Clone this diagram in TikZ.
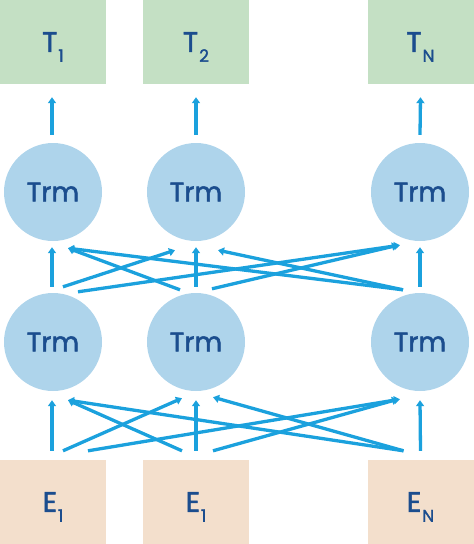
\documentclass[tikz,border=0pt]{standalone}
\usepackage{fontspec}
\setmainfont{Poppins}
\newfontfamily\labelfont{Poppins}[FakeBold=1.8]
\usetikzlibrary{arrows.meta}

\definecolor{outgreen}{HTML}{C4E0C4}
\definecolor{inbeige}{HTML}{F3DFCC}
\definecolor{trmblue}{HTML}{AED4EB}
\definecolor{linkblue}{HTML}{1BA1DD}
\definecolor{labelnavy}{HTML}{1B4D8E}

\newcommand{\lowsub}[1]{\kern1pt\smash{\raisebox{-10pt}{\fontsize{17}{18}\selectfont #1}}}

\tikzset{
    tokbox/.style={rectangle, minimum width=106pt, minimum height=84pt, inner sep=0pt, text=labelnavy, font=\labelfont\fontsize{28}{30}\selectfont},
    trm/.style={circle, fill=trmblue, minimum size=98pt, inner sep=0pt, text=labelnavy, font=\labelfont\fontsize{27}{30}\selectfont},
    link/.style={linkblue, line width=3.3pt, -{Triangle[length=6pt,width=8pt]}},
}

\begin{document}
\begin{tikzpicture}[x=1pt,y=-1pt]
        \useasboundingbox (0,0) rectangle (474,544);

        % outputs
        \node[tokbox, fill=outgreen] (t1) at (53,42) {T\lowsub{1}};
        \node[tokbox, fill=outgreen] (t2) at (196,42) {T\lowsub{2}};
        \node[tokbox, fill=outgreen] (tn) at (420.5,42) {T\lowsub{N}};

        % transformer layers
        \node[trm] (s1) at (53,192) {Trm};
        \node[trm] (s2) at (196,192) {Trm};
        \node[trm] (s3) at (420,192) {Trm};

        \node[trm] (r1) at (53,342) {Trm};
        \node[trm] (r2) at (196,342) {Trm};
        \node[trm] (r3) at (420,342) {Trm};

        % inputs
        \node[tokbox, fill=inbeige] (e1) at (53,502) {E\lowsub{1}};
        \node[tokbox, fill=inbeige] (e2) at (196,502) {E\lowsub{1}};
        \node[tokbox, fill=inbeige] (en) at (420.5,502) {E\lowsub{N}};

        % top
        \draw[link] ([shift={(-1,-8)}]s1.north) -- ([shift={(-1,13)}]t1.south);
        \draw[link] ([shift={(0,-8)}]s2.north) -- ([shift={(0,13)}]t2.south);
        \draw[link] ([shift={(0,-8)}]s3.north) -- ([shift={(0,13)}]tn.south);

        % between the two layers
        \draw[link] ([shift={(-1,-6)}]r1.north) -- ([shift={(-1,6)}]s1.south);
        \draw[link] ([shift={(0,-6)}]r2.north) -- ([shift={(0,6)}]s2.south);
        \draw[link] ([shift={(0,-6)}]r3.north) -- ([shift={(0,6)}]s3.south);
        \draw[link] ([shift={(10,-6)}]r1.north) -- ([shift={(-21,9)}]s2.south);
        \draw[link] ([shift={(25,-1)}]r1.north) -- ([shift={(-20,4)}]s3.south);
        \draw[link] ([shift={(-16,-3)}]r2.north) -- ([shift={(15,7)}]s1.south);
        \draw[link] ([shift={(16,-4)}]r2.north) -- ([shift={(-22,4)}]s3.south);
        \draw[link] ([shift={(-17,-3)}]r3.north) -- ([shift={(15,7)}]s1.south);
        \draw[link] ([shift={(-17,-3)}]r3.north) -- ([shift={(22,9)}]s2.south);

        % bottom
        \draw[link] ([shift={(-1,-9)}]e1.north) -- ([shift={(-1,9)}]r1.south);
        \draw[link] ([shift={(0,-9)}]e2.north) -- ([shift={(0,9)}]r2.south);
        \draw[link] ([shift={(0,-9)}]en.north) -- ([shift={(0,9)}]r3.south);
        \draw[link] ([shift={(10,-9)}]e1.north) -- ([shift={(-14,7)}]r2.south);
        \draw[link] ([shift={(35,-9)}]e1.north) -- ([shift={(-20,8)}]r3.south);
        \draw[link] ([shift={(-14,-9)}]e2.north) -- ([shift={(15,9)}]r1.south);
        \draw[link] ([shift={(17,-9)}]e2.north) -- ([shift={(-22,8)}]r3.south);
        \draw[link] ([shift={(-17,-9)}]en.north) -- ([shift={(15,9)}]r1.south);
        \draw[link] ([shift={(-17,-9)}]en.north) -- ([shift={(17,6)}]r2.south);
\end{tikzpicture}
\end{document}
